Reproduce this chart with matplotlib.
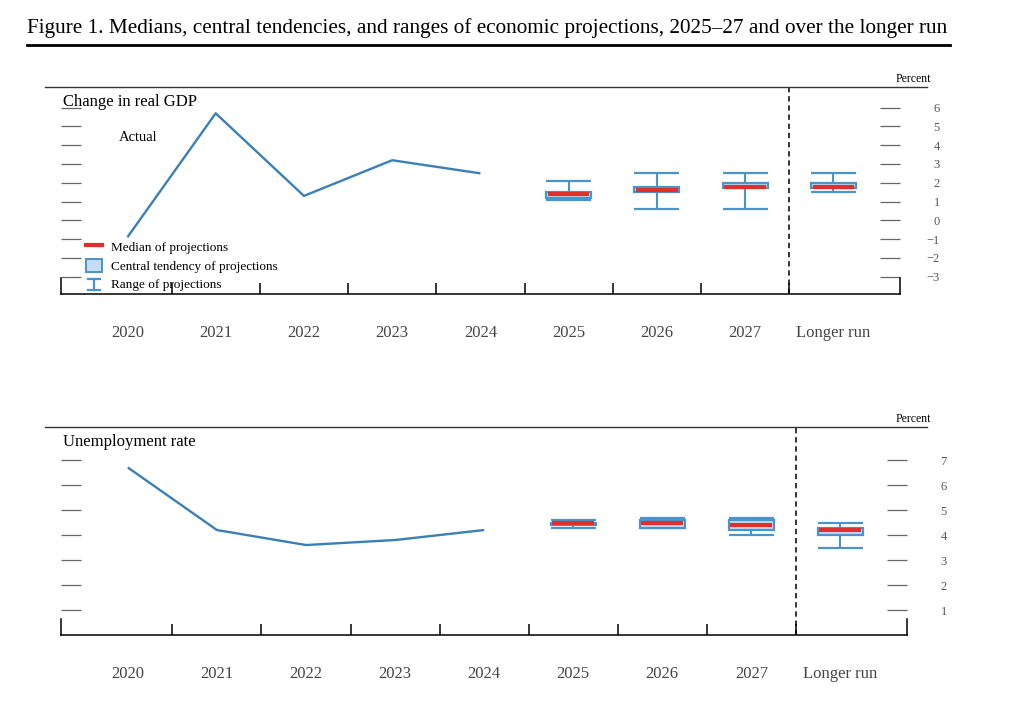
import numpy as np
import matplotlib
matplotlib.use('Agg')
import matplotlib.pyplot as plt
from matplotlib.lines import Line2D
from matplotlib.patches import Rectangle
from matplotlib.legend_handler import HandlerBase

plt.rcParams['font.family'] = ['Liberation Serif', 'DejaVu Serif']

# ---------------------------------------------------------------------------
# Data
# ---------------------------------------------------------------------------
categories = ['2020', '2021', '2022', '2023', '2024', '2025', '2026', '2027', 'Longer run']
actual_years = ['2020', '2021', '2022', '2023', '2024']
proj_periods = ['2025', '2026', '2027', 'Longer run']

# Change in real GDP (percent)
gdp_actual = [-0.9, 5.7, 1.3, 3.2, 2.5]
gdp_median = [1.4, 1.6, 1.8, 1.8]
gdp_ct_low = [1.2, 1.5, 1.7, 1.7]
gdp_ct_high = [1.5, 1.8, 2.0, 2.0]
gdp_range_low = [1.1, 0.6, 0.6, 1.5]
gdp_range_high = [2.1, 2.5, 2.5, 2.5]
gdp_ticks = [-3, -2, -1, 0, 1, 2, 3, 4, 5, 6]

# Unemployment rate (percent)
unemp_actual = [6.7, 4.2, 3.6, 3.8, 4.2]
unemp_median = [4.5, 4.5, 4.4, 4.2]
unemp_ct_low = [4.4, 4.3, 4.2, 4.0]
unemp_ct_high = [4.5, 4.6, 4.6, 4.3]
unemp_range_low = [4.3, 4.3, 4.0, 3.5]
unemp_range_high = [4.6, 4.7, 4.7, 4.5]
unemp_ticks = [1, 2, 3, 4, 5, 6, 7]

# ---------------------------------------------------------------------------
# Styling
# ---------------------------------------------------------------------------
W, H = 1024, 711
line_color = '#3a80b7'
box_edge = '#4b93cb'
box_fill = '#c6dcf1'
median_red = '#e0302b'
tick_gray = '#666666'
label_gray = '#444444'
box_w = 0.51


class HandlerRange(HandlerBase):
    # "I" shaped key for the range of projections
    def create_artists(self, legend, orig_handle, xdescent, ydescent,
                       width, height, fontsize, trans):
        cx = -xdescent + width / 2
        x0, x1 = -xdescent + width * 0.1, -xdescent + width * 0.9
        y0, y1 = -ydescent + height * 0.0, -ydescent + height * 0.85
        kw = dict(color=box_edge, lw=1.6, transform=trans)
        return [Line2D([cx, cx], [y0, y1], **kw),
                Line2D([x0, x1], [y0, y0], **kw),
                Line2D([x0, x1], [y1, y1], **kw)]


def draw_panel(ax, actual, med, ct_lo, ct_hi, r_lo, r_hi, yticks, ylim, xlim,
               title, title_y):
    x_act = np.array([categories.index(c) for c in actual_years])
    x_proj = np.array([categories.index(c) for c in proj_periods])

    ax.plot(x_act, actual, color=line_color, lw=1.7, solid_capstyle='butt')

    # range whiskers
    ax.vlines(x_proj, r_lo, r_hi, color=box_edge, lw=1.5, zorder=2)
    ax.hlines(r_lo, x_proj - box_w / 2, x_proj + box_w / 2, color=box_edge, lw=1.6, zorder=2)
    ax.hlines(r_hi, x_proj - box_w / 2, x_proj + box_w / 2, color=box_edge, lw=1.6, zorder=2)
    # central tendency boxes
    ax.bar(x_proj, np.array(ct_hi) - np.array(ct_lo), bottom=ct_lo, width=box_w,
           facecolor=box_fill, edgecolor=box_edge, lw=1.6, zorder=3)
    # medians
    ax.hlines(med, x_proj - box_w / 2 + 0.02, x_proj + box_w / 2 - 0.02,
              color=median_red, lw=3.0, zorder=4)

    ax.set_xlim(*xlim)
    ax.set_ylim(*ylim)

    for s in ['top', 'left', 'right']:
        ax.spines[s].set_visible(False)
    ax.spines['bottom'].set_linewidth(1.1)

    # x axis: boundary ticks + category labels in between
    ax.set_xticks(np.arange(len(categories) - 1) + 0.5)
    ax.set_xticklabels([])
    ax.set_xticks(np.arange(len(categories)), minor=True)
    ax.set_xticklabels(categories, minor=True)
    ax.tick_params(axis='x', which='major', direction='in', length=8, width=1.1, color='k')
    ax.tick_params(axis='x', which='minor', length=0, pad=22, labelsize=12,
                   labelcolor=label_gray)
    for xe in ax.get_xlim():
        ax.axvline(xe, 0, 16 / (ax.bbox.height), color='k', lw=1.1, clip_on=False)

    # y axis: short inward ticks on both sides, labels on the right
    ax.set_yticks(yticks)
    ax.tick_params(axis='y', which='major', left=True, right=True, direction='in',
                   length=14.4, width=0.9, color=tick_gray, labelleft=False,
                   labelright=True, pad=28.8, labelsize=9, labelcolor='#555555')
    for lab in ax.get_yticklabels():
        lab.set_horizontalalignment('right')

    # projections divider
    ax.axvline(categories.index('Longer run') - 0.5, color='k', lw=1.1,
               ls=(0, (3.5, 2.5)))

    ax.text(0.003, title_y, title, transform=ax.transAxes, fontsize=12,
            ha='left', va='center')


fig = plt.figure(figsize=(W / 100, H / 100), dpi=100)

# panel boxes placed in pixel units
ax1 = fig.add_axes([60.7 / W, (H - 294.3) / H, 839.3 / W, 207.3 / H])
ax2 = fig.add_axes([60.7 / W, (H - 635) / H, 846 / W, 207.7 / H])

draw_panel(ax1, gdp_actual, gdp_median, gdp_ct_low, gdp_ct_high,
           gdp_range_low, gdp_range_high, gdp_ticks, (-3.94, 7.10),
           (-0.756, 8.754), 'Change in real GDP', 0.928)
draw_panel(ax2, unemp_actual, unemp_median, unemp_ct_low, unemp_ct_high,
           unemp_range_low, unemp_range_high, unemp_ticks, (0, 8.31),
           (-0.754, 8.744), 'Unemployment rate', 0.927)

ax1.text(0.0695, 0.755, 'Actual', transform=ax1.transAxes, fontsize=10.5,
         ha='left', va='center')

# legend
range_key = Line2D([], [], color=box_edge)
handles = [Line2D([], [], color=median_red, lw=3),
           Rectangle((0, 0), 1, 1, facecolor=box_fill, edgecolor=box_edge, lw=1.4),
           range_key]
labels = ['Median of projections', 'Central tendency of projections', 'Range of projections']
ax1.legend(handles, labels, loc='upper left', bbox_to_anchor=(0.0301, 0.262),
           frameon=False, fontsize=9.5, borderpad=0, borderaxespad=0,
           handlelength=1.2, handleheight=1.15, handletextpad=0.72,
           labelspacing=0.35, handler_map={range_key: HandlerRange()})

# panel top rules and "Percent" labels
for y_rule, y_pct in [(87, 79), (427.3, 419)]:
    fig.add_artist(Line2D([45 / W, 927 / W], [(H - y_rule) / H] * 2,
                          transform=fig.transFigure, color='#333333', lw=1.0))
    fig.text(931 / W, (H - y_pct) / H, 'Percent', fontsize=8.5,
             ha='right', va='center')

# figure title with heavy rule under it
fig.text(27 / W, (H - 28) / H,
         'Figure 1. Medians, central tendencies, and ranges of economic projections, 2025\u201327 and over the longer run',
         fontsize=15.3, ha='left', va='center')
fig.add_artist(Line2D([27 / W, 950 / W], [(H - 45) / H] * 2,
                      transform=fig.transFigure, color='black', lw=2.0))

fig.savefig('out.png', dpi=100)
